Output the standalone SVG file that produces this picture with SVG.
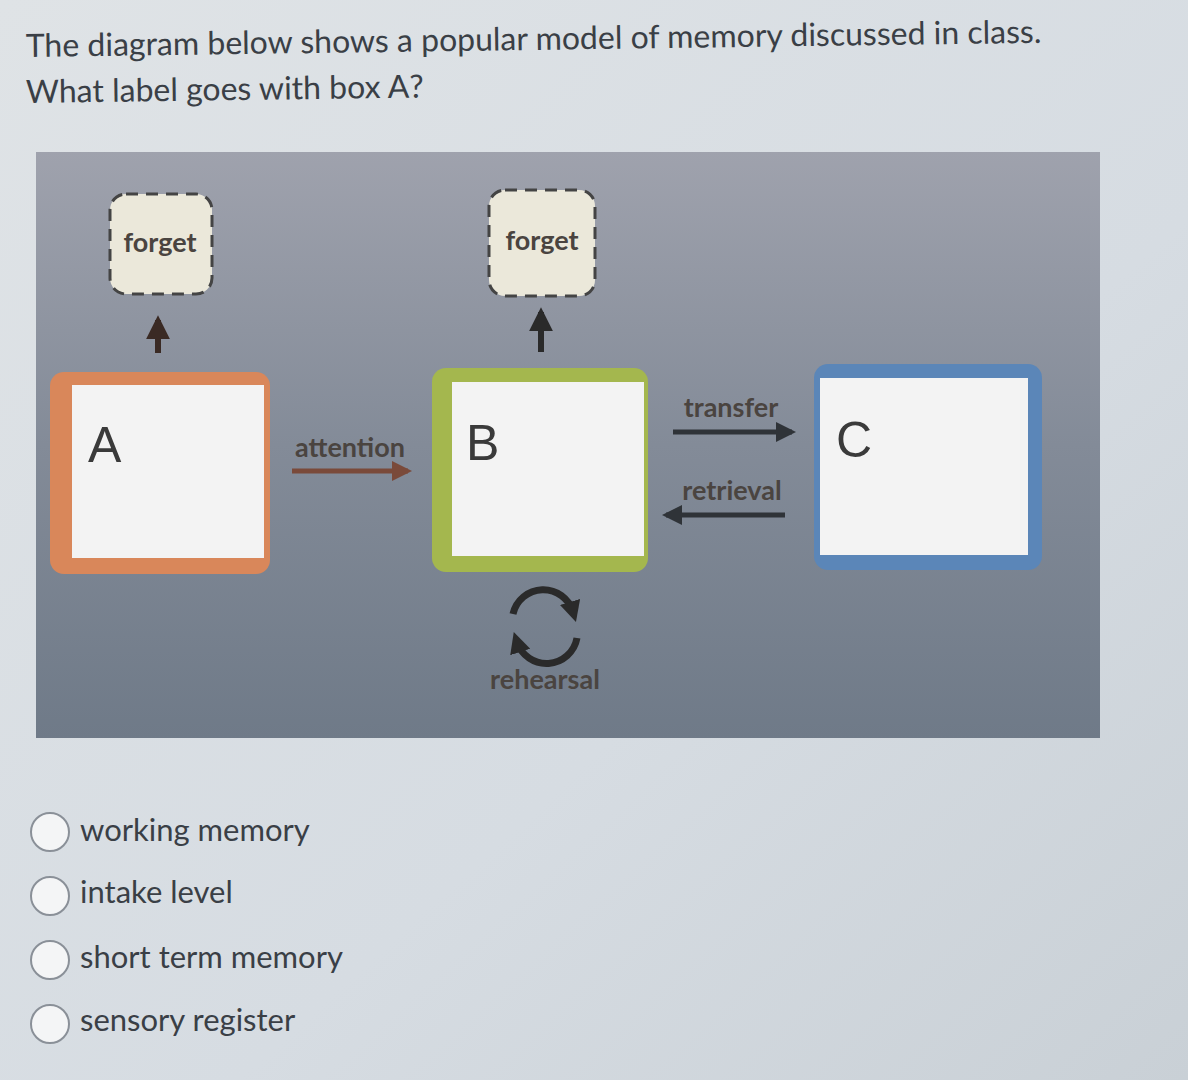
<svg xmlns="http://www.w3.org/2000/svg" width="1188" height="1080" viewBox="0 0 1188 1080">
<defs>
<linearGradient id="bg" x1="0" y1="0" x2="1" y2="1"><stop offset="0" stop-color="#dfe3e6"/><stop offset="0.6" stop-color="#d6dce2"/><stop offset="1" stop-color="#c9d0d6"/></linearGradient>
<linearGradient id="panel" x1="0" y1="0" x2="0" y2="1"><stop offset="0" stop-color="#9fa2ad"/><stop offset="0.5" stop-color="#838b98"/><stop offset="1" stop-color="#6f7a88"/></linearGradient>
<marker id="ah" viewBox="0 0 10 10" refX="8" refY="5" markerWidth="4" markerHeight="4" orient="auto-start-reverse"><path d="M0,0 L10,5 L0,10 z" fill="context-stroke"/></marker>
<marker id="ah2" viewBox="0 0 10 10" refX="5" refY="5" markerWidth="3" markerHeight="3" orient="auto"><path d="M0,0 L10,5 L0,10 z" fill="#2a2a2a"/></marker>
</defs>
<style>
.q{font-family:"Lato","Liberation Sans",sans-serif;fill:#3a3f46;font-size:32px}
.o{font-family:"Lato","Liberation Sans",sans-serif;fill:#3a3f46;font-size:31px}
.lbl{font-family:"Lato","Liberation Sans",sans-serif;font-weight:bold;fill:#4a4440;font-size:27px;text-anchor:middle}
.big{font-family:"Liberation Sans",sans-serif;fill:#3a3a3a;font-size:50px}
.fg{fill:#ebe8da;stroke:#444;stroke-width:3;stroke-dasharray:12 8}
.opt{fill:#f4f5f6;stroke:#8a9098;stroke-width:2}
</style>
<rect width="1188" height="1080" fill="url(#bg)"/>
<text class="q" x="26" y="57" transform="rotate(-0.8 26 57)">The diagram below shows a popular model of memory discussed in class.</text>
<text class="q" x="26" y="103" transform="rotate(-0.8 26 103)">What label goes with box A?</text>
<rect x="36" y="152" width="1064" height="586" fill="url(#panel)"/>
<g id="forgetA"><rect class="fg" x="110" y="194" width="102" height="100" rx="16"/><text class="lbl" x="160" y="252">forget</text></g>
<g id="forgetB"><rect class="fg" x="489" y="190" width="106" height="106" rx="16"/><text class="lbl" x="542" y="250">forget</text></g>
<g id="A"><rect x="50" y="372" width="220" height="202" rx="14" fill="#d9875a"/><rect x="72" y="385" width="192" height="173" fill="#f3f3f3"/><text class="big" x="88" y="462">A</text></g>
<g id="B"><rect x="432" y="368" width="216" height="204" rx="14" fill="#a4b74e"/><rect x="452" y="382" width="192" height="174" fill="#f3f3f3"/><text class="big" x="466" y="460">B</text></g>
<g id="C"><rect x="814" y="364" width="228" height="206" rx="14" fill="#5b86b8"/><rect x="820" y="378" width="208" height="177" fill="#f3f3f3"/><text class="big" x="836" y="457">C</text></g>
<g id="rehearsal">
<path d="M513,614 A31,31 0 0 1 573,612" fill="none" stroke="#2a2a2a" stroke-width="7" marker-end="url(#ah2)"/>
<path d="M577,638 A31,31 0 0 1 517,642" fill="none" stroke="#2a2a2a" stroke-width="7" marker-end="url(#ah2)"/>
<text class="lbl" x="545" y="689">rehearsal</text></g>
<g id="connectors" fill="none" stroke-width="6">
<line x1="158" y1="353" x2="158" y2="320" stroke="#3a2a24" marker-end="url(#ah)"/>
<line x1="541" y1="352" x2="541" y2="312" stroke="#2a2a2a" marker-end="url(#ah)"/>
<line x1="292" y1="471" x2="408" y2="471" stroke="#7a4a3a" stroke-width="5" marker-end="url(#ah)"/>
<line x1="673" y1="432" x2="792" y2="432" stroke="#2f3338" stroke-width="5" marker-end="url(#ah)"/>
<line x1="785" y1="515" x2="666" y2="515" stroke="#2f3338" stroke-width="5" marker-end="url(#ah)"/>
</g>
<text class="lbl" x="350" y="457">attention</text>
<text class="lbl" x="731" y="417">transfer</text>
<text class="lbl" x="732" y="500">retrieval</text>
<g id="options">
<circle class="opt" cx="50" cy="832" r="19"/><text class="o" x="80" y="841">working memory</text>
<circle class="opt" cx="50" cy="896" r="19"/><text class="o" x="80" y="903">intake level</text>
<circle class="opt" cx="50" cy="960" r="19"/><text class="o" x="80" y="968">short term memory</text>
<circle class="opt" cx="50" cy="1024" r="19"/><text class="o" x="80" y="1031">sensory register</text>
</g>
</svg>
